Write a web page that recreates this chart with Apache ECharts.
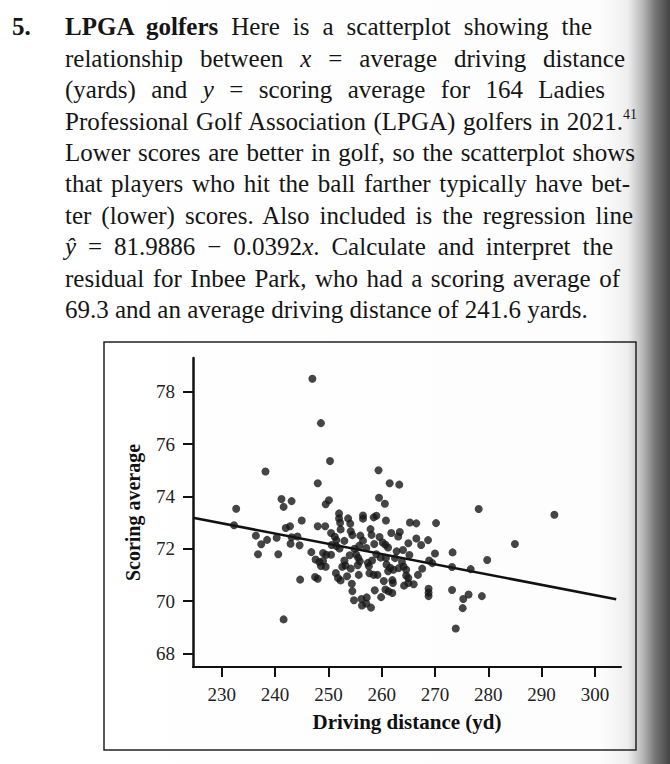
<!DOCTYPE html>
<html><head><meta charset="utf-8">
<script src="https://cdn.jsdelivr.net/npm/echarts@6/dist/echarts.min.js"></script>
<style>
html,body{margin:0;padding:0;width:670px;height:764px;overflow:hidden;}
body{background:linear-gradient(to right,#fff 0,#fdfdfd 600px,#eee 628px,#bbb 642px,#777 655px,#444 670px);}
#chart{position:absolute;left:0;top:0;width:670px;height:764px;}
.ln{position:absolute;left:65px;font-family:'Liberation Serif','Times New Roman',serif;font-size:25px;line-height:31px;height:31px;text-align:justify;text-align-last:justify;color:#151515;z-index:2;}
.ln.last{text-align:left;text-align-last:left;}
.num{position:absolute;left:12px;top:11px;font-family:'Liberation Serif',serif;font-weight:bold;font-size:25px;line-height:31px;color:#151515;z-index:2;}
sup{font-size:14px;line-height:0;vertical-align:11px;}
</style></head>
<body>
<div class="num">5.</div>
<div class="ln" style="top:11px;width:527px"><b>LPGA golfers</b> Here is a scatterplot showing the</div>
<div class="ln" style="top:43px;width:560px">relationship between <i>x</i> = average driving distance</div>
<div class="ln" style="top:74px;width:540px">(yards) and <i>y</i> = scoring average for 164 Ladies</div>
<div class="ln" style="top:106px;width:572px">Professional Golf Association (LPGA) golfers in 2021.<sup>41</sup></div>
<div class="ln" style="top:137px;width:570px">Lower scores are better in golf, so the scatterplot shows</div>
<div class="ln" style="top:168px;width:565px">that players who hit the ball farther typically have bet-</div>
<div class="ln" style="top:200px;width:568px">ter (lower) scores. Also included is the regression line</div>
<div class="ln" style="top:231px;width:548px"><i>ŷ</i> = 81.9886 − 0.0392<i>x</i>. Calculate and interpret the</div>
<div class="ln" style="top:263px;width:555px">residual for Inbee Park, who had a scoring average of</div>
<div class="ln last" style="top:294px;">69.3 and an average driving distance of 241.6 yards.</div>
<div id="chart"></div>
<script>
const xTicks = [230, 240, 250, 260, 270, 280, 290, 300];
const yTicks = [68, 70, 72, 74, 76, 78];
const distance = [
247.0,248.6,250.3,259.4,238.2,248.0,261.5,263.3,259.5,260.6,
241.2,243.1,241.6,232.7,250.1,249.5,278.2,292.4,245.0,232.3,
285.0,279.8,273.3,241.6,273.9,244.7,247.5,248.0,242.0,242.8,
236.4,237.4,238.5,240.3,236.8,240.6,243.1,244.2,242.9,244.6,
248.0,249.4,246.8,252.0,252.0,252.2,253.7,254.1,256.5,256.5,
258.5,259.0,260.8,265.3,266.5,270.2,252.3,254.2,254.5,257.9,
258.1,261.8,263.4,263.1,265.0,266.5,267.4,268.7,251.2,251.5,
250.6,251.5,252.1,253.0,254.9,255.8,256.5,257.1,258.6,260.2,
260.7,261.2,249.0,249.6,250.5,255.2,255.6,255.9,259.0,259.8,
260.8,262.5,265.2,268.9,270.0,269.5,273.2,276.7,247.6,248.3,
249.0,248.6,249.5,252.6,253.2,254.2,255.5,257.4,257.6,260.9,
261.6,262.2,263.2,264.1,264.6,267.6,266.8,251.4,251.8,252.3,
255.7,257.7,258.5,259.2,261.2,264.6,265.0,265.0,264.2,260.4,
262.0,262.1,266.0,254.4,254.5,254.8,256.2,257.2,256.3,257.1,
258.0,258.7,259.9,260.7,261.3,262.0,268.8,268.8,268.8,273.2,
275.3,276.3,275.2,278.8,253.0,254.0,258.2,262.8,263.8,250.5,
256.0,259.6,264.0,253.5];
const score = [
78.5,76.8,75.35,75.0,74.95,74.5,74.5,74.45,73.95,73.72,
73.9,73.82,73.6,73.53,73.85,73.7,73.52,73.3,73.08,72.9,
72.18,71.57,71.86,69.3,68.95,70.82,70.92,70.85,72.79,72.86,
72.5,72.17,72.34,72.42,71.79,71.79,72.44,72.47,72.19,72.13,
72.86,72.86,71.87,73.35,73.16,72.99,73.16,72.96,73.27,73.15,
73.2,73.26,73.08,73.0,72.97,72.98,72.74,72.67,72.52,72.75,
72.53,72.6,72.64,72.47,72.21,72.39,72.14,72.33,72.46,72.33,
72.14,72.1,72.01,72.3,72.0,72.12,72.31,72.03,72.18,72.24,
72.15,72.05,71.84,71.77,71.77,71.78,71.65,71.52,71.79,71.66,
71.65,71.64,71.76,71.55,71.82,71.45,71.3,71.22,71.59,71.49,
71.53,71.34,71.31,71.31,71.36,71.24,71.37,71.46,71.33,71.4,
71.27,71.2,71.26,71.32,71.2,71.24,71.0,71.07,70.88,70.79,
71.0,71.06,71.0,71.0,71.14,70.98,70.88,70.69,70.59,70.77,
70.8,70.69,70.64,70.66,70.38,70.03,70.08,70.14,69.83,69.91,
69.75,70.41,70.15,70.44,70.37,70.31,70.47,70.32,70.19,70.42,
70.08,70.25,69.73,70.19,71.55,71.75,71.55,71.9,71.5,72.6,
72.5,72.45,71.95,70.95];
const intercept = 81.9886;
const slope = -0.0392;
const lineRange = [224.6, 304];

const points = distance.map((d, i) => [d, score[i]]);
const fitLine = lineRange.map(x => [x, intercept + slope * x]);
const serif = "'Liberation Serif','Times New Roman',serif";

const chart = echarts.init(document.getElementById('chart'), null, {renderer: 'svg'});
chart.setOption({
  animation: false,
  backgroundColor: 'transparent',
  grid: {left: 193, top: 358, width: 428, height: 309},
  xAxis: {
    type: 'value', min: 224.6, max: 304.9,
    axisLine: {lineStyle: {color: '#111', width: 2}},
    axisTick: {show: true, customValues: xTicks, length: 10, lineStyle: {color: '#111', width: 2}},
    axisLabel: {customValues: xTicks, margin: 18, fontFamily: serif, fontSize: 19, color: '#222'},
    splitLine: {show: false},
    name: 'Driving distance (yd)', nameLocation: 'middle', nameGap: 44,
    nameTextStyle: {fontFamily: serif, fontWeight: 'bold', fontSize: 21, color: '#111'}
  },
  yAxis: {
    type: 'value', min: 67.48, max: 79.29,
    axisLine: {show: true, lineStyle: {color: '#111', width: 2.5}},
    axisTick: {show: true, customValues: yTicks, length: 10, lineStyle: {color: '#111', width: 2}},
    axisLabel: {customValues: yTicks, margin: 18, fontFamily: serif, fontSize: 19, color: '#222'},
    splitLine: {show: false},
    name: 'Scoring average', nameLocation: 'middle', nameGap: 50,
    nameTextStyle: {fontFamily: serif, fontWeight: 'bold', fontSize: 20, color: '#111'}
  },
  series: [
    {type: 'scatter', data: points, symbolSize: 8, itemStyle: {color: '#161616'}, z: 3},
    {type: 'line', data: fitLine, symbol: 'none', lineStyle: {color: '#111', width: 2.5}, z: 2}
  ],
  graphic: [{
    type: 'rect', shape: {x: 104, y: 342, width: 532, height: 408},
    style: {fill: 'rgba(0,0,0,0)', stroke: '#222', lineWidth: 1.5}, silent: true
  }]
});
</script>
</body></html>
